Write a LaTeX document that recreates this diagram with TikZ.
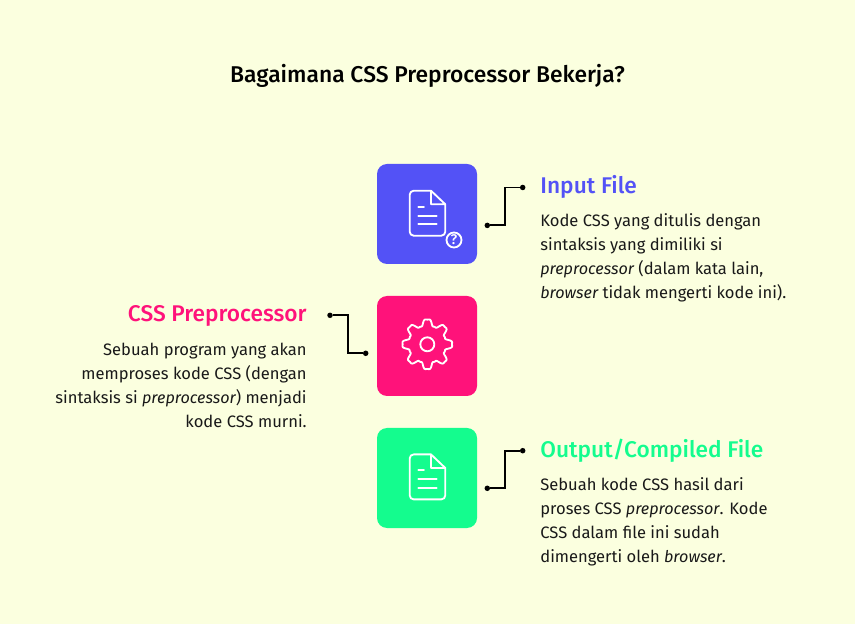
\documentclass[tikz,border=0pt]{standalone}
\usepackage{fontspec}
\setmainfont[BoldFont={* Medium}]{Fira Sans}
\definecolor{paper}{HTML}{FBFFDF}
\definecolor{inputblue}{HTML}{5352F6}
\definecolor{procpink}{HTML}{FF127A}
\definecolor{outgreen}{HTML}{14FC8E}
\newcommand{\ital}[1]{{\fontsize{9.2}{13.66}\selectfont\itshape #1}}
\tikzset{
	iconbox/.style={minimum size=100*0.02cm, inner sep=0, rounded corners=0.2cm},
	dotend/.style={circle, fill=black, inner sep=0, minimum size=0.11cm},
	wire/.style={line width=1.1pt, black},
	headtxt/.style={inner sep=0, font=\fontsize{12.92}{15}\selectfont\bfseries},
	bodytxt/.style={inner sep=0, font=\fontsize{9.42}{13.66}\selectfont, black!90},
	iconline/.style={draw=white, line width=1.05pt, line cap=round, line join=round}
}
\begin{document}
\begin{tikzpicture}[x=0.02cm, y=-0.02cm]
	\useasboundingbox[fill=paper] (0,0) rectangle (855,624);

	\node[inner sep=0, font=\fontsize{13}{15}\selectfont\bfseries] (title) at(427.5,76){Bagaimana CSS Preprocessor Bekerja?};

	\node[iconbox, fill=inputblue] (inputBox) at(427,214){};
	\node[iconbox, fill=procpink] (procBox) at(427,346){};
	\node[iconbox, fill=outgreen] (outBox) at(427,478){};

	\draw[iconline] (431,190.7) [rounded corners=0.08cm] -- (409.7,190.7) -- (409.7,235.7) -- (445.3,235.7) [sharp corners] -- (445.3,204.3) -- (431,190.7) -- (431,204.3) -- (445.3,204.3);
	\draw[iconline] (418.3,206.7) -- (424,206.7);
	\draw[iconline] (418.3,215.7) -- (436.7,215.7);
	\draw[iconline] (418.3,224.3) -- (436.7,224.3);
	\node[circle, draw=white, line width=1.05pt, minimum size=15*0.02cm, inner sep=0, text=white, font=\fontsize{8}{8}\selectfont\bfseries] (helpMark) at(454,240){?};

	\draw[iconline] (431,454.4) [rounded corners=0.08cm] -- (409.7,454.4) -- (409.7,499.4) -- (445.3,499.4) [sharp corners] -- (445.3,468) -- (431,454.4) -- (431,468) -- (445.3,468);
	\draw[iconline] (418.3,470.4) -- (424,470.4);
	\draw[iconline] (418.3,479.4) -- (436.7,479.4);
	\draw[iconline] (418.3,488) -- (436.7,488);

	\draw[iconline] plot[smooth cycle, samples=192, domain=0:358.125] ({427.3+(21.8+3.6*(cos(8*\x)-0.2*cos(24*\x)))*cos(\x)},{344.3+(21.8+3.6*(cos(8*\x)-0.2*cos(24*\x)))*sin(\x)});
	\draw[iconline] (427.3,344.3) circle[radius=7*0.02cm];

	\node[dotend] (inputA) at(487.3,225.4){};
	\node[dotend] (inputB) at(522.7,187.5){};
	\draw[wire] (inputA) -- (505,225.4) -- (505,187.5) -- (inputB);

	\node[dotend] (procA) at(330,315.3){};
	\node[dotend] (procB) at(365.7,353.3){};
	\draw[wire] (procA) -- (347.7,315.3) -- (347.7,353.3) -- (procB);

	\node[dotend] (outA) at(487.3,488.3){};
	\node[dotend] (outB) at(522.7,450.7){};
	\draw[wire] (outA) -- (505,488.3) -- (505,450.7) -- (outB);

	\node[headtxt, text=inputblue, anchor=west] (inputHead) at(540,186.5){Input File};
	\node[bodytxt, anchor=north west, align=left] (inputText) at(540,213){Kode CSS yang ditulis dengan\\sintaksis yang dimiliki si\\\ital{preprocessor} (dalam kata lain,\\\ital{browser} tidak mengerti kode ini).};

	\node[headtxt, text=procpink, anchor=east] (procHead) at(307,316){CSS Preprocessor};
	\node[bodytxt, anchor=north east, align=right] (procText) at(307,343){Sebuah program yang akan\\memproses kode CSS (dengan\\sintaksis si \ital{preprocessor}) menjadi\\kode CSS murni.};

	\node[headtxt, text=outgreen, anchor=west] (outHead) at(540,450.5){Output/Compiled File};
	\node[bodytxt, anchor=north west, align=left] (outText) at(540,477){Sebuah kode CSS hasil dari\\proses CSS \ital{preprocessor}. Kode\\CSS dalam file ini sudah\\dimengerti oleh \ital{browser}.};
\end{tikzpicture}
\end{document}
